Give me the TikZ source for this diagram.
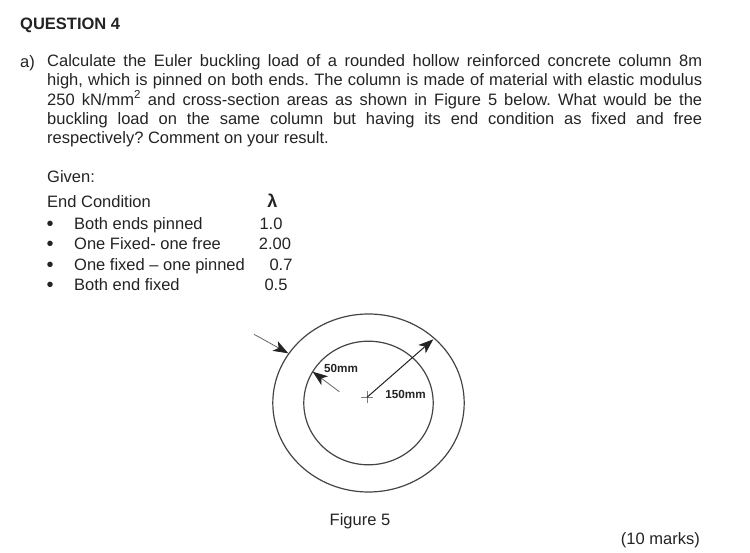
\documentclass[tikz,border=0pt]{standalone}
\usepackage{fontspec}
\setmainfont{Liberation Sans}
\usetikzlibrary{arrows.meta, positioning, calc}
\definecolor{inkdark}{RGB}{35,35,35}
\frenchspacing
\tikzset{
  txt/.style={anchor=base west,inner sep=0pt,text=inkdark,font=\fontsize{16.5}{19.3}\selectfont},
  val/.style={txt,anchor=base},
  dim/.style={anchor=center,inner sep=0pt,text=inkdark,font=\fontsize{11.7}{13}\selectfont\bfseries},
  ring/.style={draw=inkdark!85,line width=1.2pt},
  shaft/.style={draw=inkdark!70,line width=0.8pt,-{Stealth[length=15pt,width=11pt,inset=4pt,inkdark]}}
}
\begin{document}
\begin{tikzpicture}[x=1pt,y=-1pt]
\useasboundingbox (0,0) rectangle (750,553);
% Question text
\node[txt,font=\fontsize{16.5}{19}\selectfont\bfseries] (qhead) at (20,29.5) {QUESTION 4};
\node[txt] (qa) at (20,68) {a)};
\node[txt,anchor=north west,text width=655pt,align=justify] (qbody) at (47,54.5)
  {Calculate the Euler buckling load of a rounded hollow reinforced concrete column 8m\linebreak
   high, which is pinned on both ends. The column is made of material with elastic modulus\linebreak
   250 kN/mm\textsuperscript{2} and cross-section areas as shown in Figure 5 below. What would be the\linebreak
   buckling load on the same column but having its end condition as fixed and free\linebreak
   respectively? Comment on your result.};
% Given table
\node[txt] (given) at (47,182.5) {Given:};
\node[txt] (cond) at (47,207.5) {End Condition};
\node[val,font=\fontsize{18}{19}\selectfont\bfseries] (lam) at (272.5,207.5) {λ};
\foreach \nm/\yy/\lab/\xv/\num in {a/229.5/Both ends pinned/271/1.0,
    b/249.5/One Fixed- one free/275/2.00,
    c/270.5/One fixed -- one pinned/281/0.7,
    d/290.5/Both end fixed/276/0.5}{
  \node[txt,font=\fontsize{20}{19}\selectfont] (bul\nm) at (46.5,\yy+1) {\textbullet};
  \node[txt] (item\nm) at (74,\yy) {\lab};
  \node[val] (num\nm) at (\xv,\yy) {\num};
}
% Cross-section
\coordinate (cen) at (368.5,403);
\coordinate (mark) at (367,397.3);
\draw[ring] (cen) ellipse (95.7 and 89);
\draw[ring] (cen) ellipse (64.7 and 61.8);
\draw[inkdark!60,line width=0.5pt] ($(mark)+(-6,0)$) -- ($(mark)+(6,0)$);
\draw[inkdark!60,line width=0.5pt] ($(mark)+(0,-6)$) -- ($(mark)+(0,6)$);
% Dimension arrows
\coordinate (wallstart) at (254,334.3);
\coordinate (walltip) at (288.3,353.3);
\coordinate (innerstart) at (339.3,391.7);
\coordinate (innertip) at (312.7,371.7);
\coordinate (radtip) at (433.3,339.3);
\draw[shaft] (wallstart) -- (walltip);
\draw[shaft] (innerstart) -- (innertip);
\draw[shaft,draw=inkdark,line width=1pt] (mark) -- (radtip);
\node[dim] (lbla) at (341,368.3) {50mm};
\node[dim] (lblb) at (405.5,394.3) {150mm};
% Caption and marks
\node[val] (figcap) at (360,525) {Figure 5};
\node[txt,anchor=base east] (marks) at (700,544) {(10 marks)};
\end{tikzpicture}
\end{document}
